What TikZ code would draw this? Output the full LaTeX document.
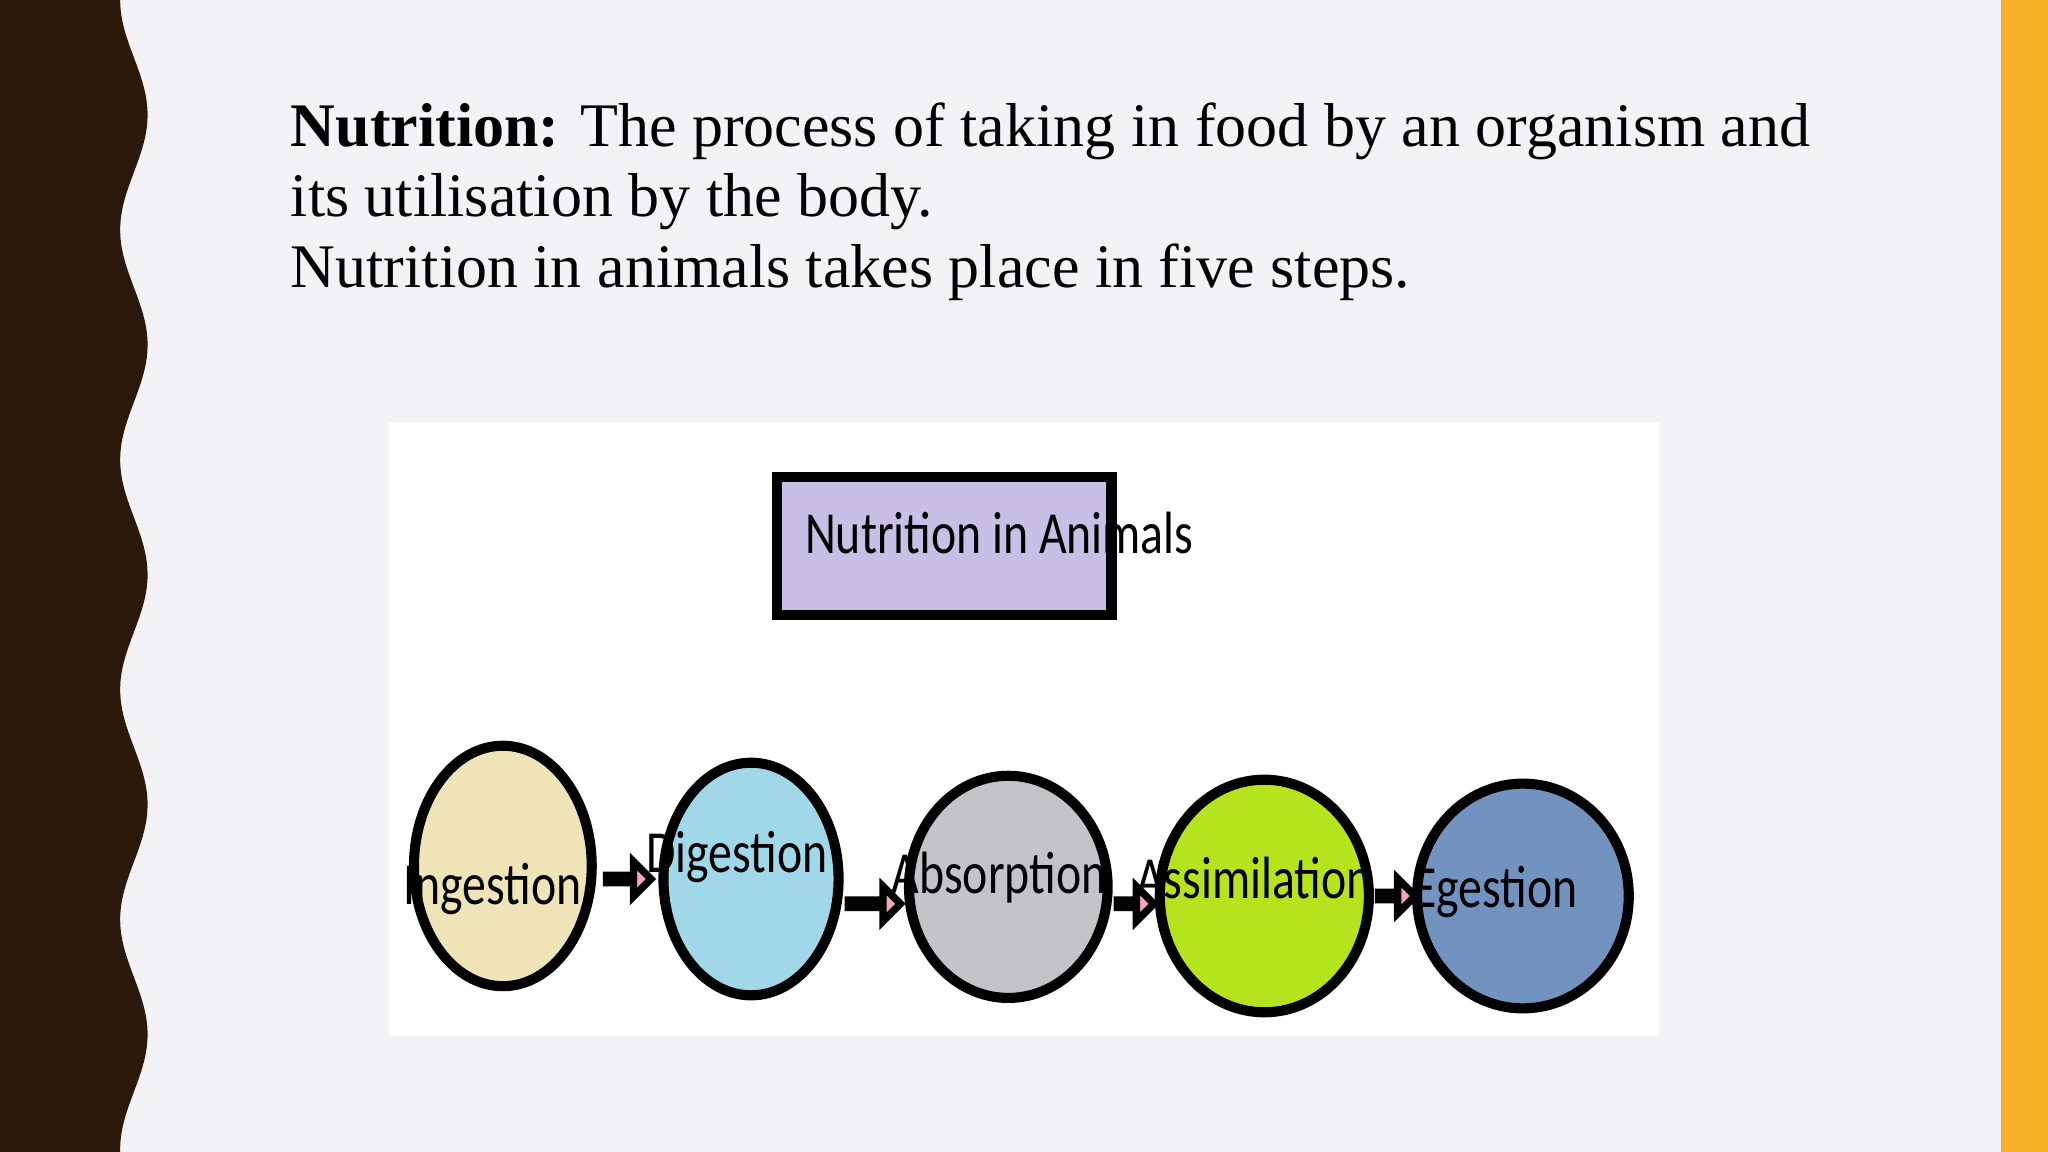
\documentclass[tikz,border=0pt]{standalone}
\usepackage{fontspec}
\setmainfont{Liberation Serif}
\newfontfamily\carfont{Carlito}
\usetikzlibrary{shapes.arrows,shapes.geometric}
\definecolor{bg}{HTML}{F3F3F5}
\definecolor{dark}{HTML}{2B1A0B}
\definecolor{orng}{HTML}{F7B228}
\definecolor{pinkf}{HTML}{F4A6B9}
\tikzset{
 stage/.style={ellipse,draw=black,line width=2.2pt,inner sep=0pt},
 lab/.style={font=\carfont\fontsize{13}{15}\selectfont\addfontfeatures{FakeStretch=0.8}},
 barrow/.style={single arrow,draw=black,line width=1.6pt,fill=pinkf,single arrow head extend=3pt,inner sep=0pt,minimum height=0.34cm,minimum width=0.2cm},
 line/.style={font=\fontsize{13.5}{16}\selectfont,anchor=base west,inner sep=0pt}
}
\begin{document}
\begin{tikzpicture}[x=0.01cm,y=-0.01cm]
\fill[bg] (0,0) rectangle (1568,882);
\useasboundingbox (0,0) rectangle (1568,882);
\fill[dark] (0,0) -- plot[domain=0:882,samples=220] ({102.5+10.5*cos(2.04545*(\x-88))},\x) -- (0,882) -- cycle;
\fill[orng] (1532,0) rectangle (1568,882);
\node[line] (l1) at (222,112) {\textbf{Nutrition:} The process of taking in food by an organism and};
\node[line] (l2) at (222,166) {its utilisation by the body.};
\node[line] (l3) at (222,220) {Nutrition in animals takes place in five steps.};
\fill[white] (298,323) rectangle (1270,793);
\draw[line width=2.2pt,fill={rgb,255:red,200;green,191;blue,230}] (595,365) rectangle (851,471);
\node[lab,anchor=west] (t) at (604,408) {Nutrition in Animals};
\node[stage,fill={rgb,255:red,239;green,228;blue,183},minimum width=1.36cm,minimum height=1.84cm] (a) at (385,663) {};
\node[stage,fill={rgb,255:red,160;green,216;blue,234},minimum width=1.34cm,minimum height=1.78cm] (b) at (575,673) {};
\node[stage,fill={rgb,255:red,196;green,195;blue,198},minimum width=1.52cm,minimum height=1.70cm] (c) at (772,679) {};
\node[stage,fill={rgb,255:red,181;green,228;blue,31},minimum width=1.60cm,minimum height=1.78cm] (d) at (968,686) {};
\node[stage,fill={rgb,255:red,114;green,147;blue,191},minimum width=1.62cm,minimum height=1.72cm] (e) at (1166,686) {};
\node[lab] (ta) at (377,681) {Ingestion};
\node[lab] (tb) at (564,656) {Digestion};
\node[lab] (tc) at (765,672) {Absorption};
\node[lab] (td) at (960,672) {Assimilation};
\node[lab] (te) at (1145,683) {Egestion};
\node[barrow] (ab) at (480,673) {};
\node[barrow,minimum height=0.4cm,minimum width=0.26cm] (bc) at (668,692) {};
\node[barrow,minimum height=0.28cm,minimum width=0.18cm] (cd) at (868,692) {};
\node[barrow,minimum height=0.28cm,minimum width=0.2cm] (de) at (1068,686) {};
\end{tikzpicture}
\end{document}
